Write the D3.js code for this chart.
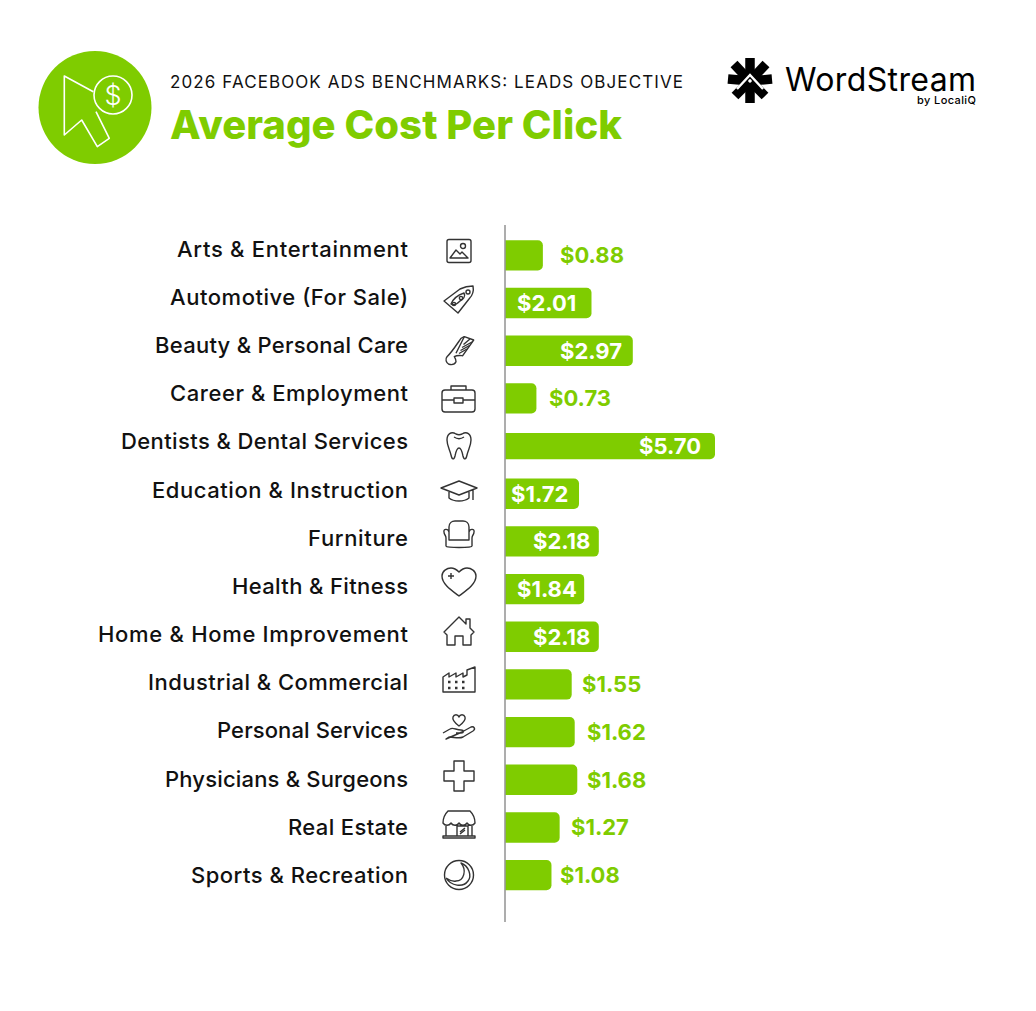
<!DOCTYPE html>
<html><head><meta charset="utf-8">
<script src="https://cdn.jsdelivr.net/npm/d3@7"></script>
<style>html,body{margin:0;padding:0;background:#fff}svg{display:block}</style>
</head><body><svg id="c" width="1036" height="1011"></svg>
<script>
const categories = ["Arts & Entertainment","Automotive (For Sale)","Beauty & Personal Care","Career & Employment","Dentists & Dental Services","Education & Instruction","Furniture","Health & Fitness","Home & Home Improvement","Industrial & Commercial","Personal Services","Physicians & Surgeons","Real Estate","Sports & Recreation"];
const values = [0.88,2.01,2.97,0.73,5.70,1.72,2.18,1.84,2.18,1.55,1.62,1.68,1.27,1.08];
const titleText = "Average Cost Per Click";
const subtitleText = "2026 FACEBOOK ADS BENCHMARKS: LEADS OBJECTIVE";

// layout (reference's hand placement of the value labels and label widths)
const labelStart = [560,517,560,549,639,511,533,517,533,582,587,587,571,560];
const onBar = [0,1,1,0,1,1,1,1,1,0,0,0,0,0];
const barInset = [0,0,0,0,2,0,0,0,0,0,0,0,0,0];
const iconY = [251,299,349,400,446,490,535,582,632,680,728,776,825,875];
const labelWidth = [231,238,253,238,287,256,100,176,310,260,191,243,120,217];
const green = "#7fcc00", ink = "#111", iconInk = "#333";
const font = "Inter, 'Open Sans', sans-serif";

const svg = d3.select("#c");
const x = d3.scaleLinear().domain([0,4.88]).range([505,715]).clamp(true);
const y = d3.scaleBand().domain(categories).range([231.55,898.95]).paddingInner(.363).paddingOuter(.1815);
const yLabel = d3.scalePoint().domain(categories).range([249.3,875.4]);

// header
svg.append("circle").attr("cx",95).attr("cy",107.5).attr("r",56.5).attr("fill",green);
const cur = svg.append("g").attr("fill","none").attr("stroke","#fff").attr("stroke-width",1.6).attr("stroke-linejoin","round");
cur.append("path").attr("d","M93.3 91.7 L64.3 76 L64.3 135 L81.7 120 L97.3 146.7 L109.3 138.3 L96 111.7");
cur.append("circle").attr("cx",113).attr("cy",95).attr("r",19);
svg.append("text").attr("x",113).attr("y",104.5).attr("text-anchor","middle").attr("font-family",font).attr("font-size",27).attr("font-weight",300).attr("fill","#fff").text("$");
svg.append("text").attr("x",170).attr("y",88).attr("font-family",font).attr("font-size",17).attr("font-weight",400).attr("fill",ink).attr("textLength",513).text(subtitleText);
svg.append("text").attr("x",170).attr("y",139).attr("font-family",font).attr("font-size",40).attr("font-weight",800).attr("fill",green).attr("textLength",452).text(titleText);

// logo
const logo = svg.append("g").attr("transform","translate(750,81)");
[[0,-23],[16,-17],[-16,-17],[-22,-2],[22,-2],[-15,15],[0,22],[15,15]].forEach(a=>
  logo.append("line").attr("x1",a[0]).attr("y1",a[1]).attr("x2",a[0]*.08).attr("y2",a[1]*.08).attr("stroke","#000").attr("stroke-width",9.5));
logo.append("path").attr("d","M-13 8 L0 -6 L13 8").attr("fill","none").attr("stroke","#fff").attr("stroke-width",2.4);
svg.append("text").attr("x",785).attr("y",91).attr("font-family",font).attr("font-size",32).attr("font-weight",400).attr("fill","#000").attr("textLength",191).text("WordStream");
svg.append("text").attr("x",917).attr("y",104).attr("font-family",font).attr("font-size",11).attr("font-weight",500).attr("fill","#000").attr("textLength",59).text("by LocaliQ");

// category labels
const axis = svg.append("g").attr("transform","translate(408,0)").call(d3.axisLeft(yLabel).tickSize(0).tickPadding(0));
axis.select(".domain").remove();
axis.selectAll("text").attr("font-family",font).attr("font-size",22).attr("font-weight",450).attr("fill",ink)
  .attr("textLength",(d,i)=>labelWidth[i]);

// bars
svg.append("g").selectAll("path").data(categories).join("path").attr("fill",green)
 .attr("d",(d,i)=>{const x0=x(0),x1=x(values[i]),t=y(d)+barInset[i],h=y.bandwidth()-2*barInset[i],r=Math.min(5,x1-x0);
   return `M${x0} ${t}H${x1-r}a${r} ${r} 0 0 1 ${r} ${r}V${t+h-r}a${r} ${r} 0 0 1 ${-r} ${r}H${x0}Z`;});
svg.append("line").attr("x1",505).attr("x2",505).attr("y1",225).attr("y2",922).attr("stroke","#999").attr("stroke-width",1.6);

// value labels
svg.append("g").selectAll("text").data(categories).join("text")
 .attr("x",(d,i)=>labelStart[i]).attr("y",d=>y(d)+y.bandwidth()/2+8)
 .attr("font-family",font).attr("font-size",22).attr("font-weight",700)
 .attr("fill",(d,i)=>onBar[i]?"#fff":green).text((d,i)=>"$"+values[i].toFixed(2));

// category icons
function p(g,d){g.append("path").attr("d",d);}
const icons = [
 g=>{g.append("rect").attr("x",-12).attr("y",-11.5).attr("width",24).attr("height",23).attr("rx",2);p(g,"M-9 7 L-3 -1 L1 3 L3 1 L9 7 Z");g.append("circle").attr("cx",4).attr("cy",-5).attr("r",2.5);},
 g=>{p(g,"M-15 2 L1 -10 C5 -12 9 -13 14 -13 C15 -8 13 -3 10 0 L-1 14 Z");g.append("circle").attr("cx",9).attr("cy",-7).attr("r",2);p(g,"M-8 5 C-6 0 -1 -4 5 -6 C7 -3 4 1 1 2 C-2 5 -5 7 -8 5 Z");g.append("circle").attr("cx",-5).attr("cy",5).attr("r",1.6);g.append("circle").attr("cx",2).attr("cy",-1).attr("r",1.6);},
 g=>{p(g,"M5.3 -12.3 C3 -11 2 -10.7 2 -10.7 C-2 -5 -7 3 -12 7.7 C-14 10 -13 14 -10 15.3 C-7 16 -4 15 -3 12.7 C-3 10 -4 9 -4.7 7.7 C-2 6 1 6.5 3.7 6.7 L14.7 -9 Z");p(g,"M5.3 -12.3 L-3 4.3 M11 -10 L4.5 -4.5 M13 -7 L3 -1.5 M10.5 -3.5 L1.5 1.5 M8 0 L0 4.5");},
 g=>{g.append("rect").attr("x",-17).attr("y",-10).attr("width",33).attr("height",22).attr("rx",3);p(g,"M-8 -10 V-14 H7 V-10 M-17 0 H-5 M4 0 H16");g.append("rect").attr("x",-5).attr("y",-2).attr("width",9).attr("height",5);},
 g=>{p(g,"M-3 -12 C-8 -15 -12 -12 -12 -6 C-12 0 -9 4 -8 9 C-7 14 -5 14 -4 10 C-3 5 -2 2 0 2 C2 2 3 5 4 10 C5 14 7 14 8 9 C9 4 12 0 12 -6 C12 -12 8 -15 3 -12 C1 -11 -1 -11 -3 -12 Z M-5 -9 C-2 -7 2 -7 5 -9");},
 g=>{p(g,"M-18 -2 L0 -9 L18 -2 L0 5 Z M-10 2 V8 C-5 12 5 12 10 8 V2 M14 0 V10");},
 g=>{p(g,"M-10 -3 V-8 C-10 -12 -7 -14 -4 -14 H4 C7 -14 10 -12 10 -8 V-3 M-15 -3 C-16 -6 -11 -7 -10 -3 V5 H10 V-3 C11 -7 16 -6 15 -3 C15 0 13 0 13 3 V11 C13 13 -13 13 -13 11 V3 C-13 0 -15 0 -15 -3 Z");},
 g=>{p(g,"M0 14 C-8 8 -17 2 -17 -6 C-17 -11 -12 -14 -8 -14 C-4 -14 -2 -12 0 -10 C2 -12 4 -14 8 -14 C12 -14 17 -11 17 -6 C17 2 8 8 0 14 Z M-8 -9 V-3 M-11 -6 H-5");},
 g=>{p(g,"M-15 0 L0 -15 L7 -8 V-13 H11 V-4 L15 0 L12 3 V13 H4 V4 H-4 V13 H-12 V3 Z");},
 g=>{p(g,"M-16 12 V-3 L-10 -7 V-3 L-3 -7 V-3 L4 -7 V-3 L8 -5 V-10 L16 -13 V12 Z");g.append("path").attr("stroke-width",2.4).attr("d","M-11 2 h2.5 M-4 2 h2.5 M3 2 h2.5 M-11 8 h2.5 M-4 8 h2.5 M3 8 h2.5");},
 g=>{p(g,"M0 -2 C-4 -5 -7 -8 -6 -11 C-5 -14 -1 -14 0 -11 C1 -14 5 -14 6 -11 C7 -8 4 -5 0 -2 Z M-16 5 L-9 1 C-6 -1 -3 2 2 2 C5 2 5 5 2 5 H-3 M3 4 L12 -1 C15 -2 17 1 14 3 L4 9 C0 11 -5 9 -10 9 L-13 11 Z");},
 g=>{p(g,"M-5 -15 H5 V-5 H15 V5 H5 V15 H-5 V5 H-15 V-5 H-5 Z");},
 g=>{p(g,"M-11 -14 H11 C14 -11 16 -6 16 -2 C14 1 10 1 8 -2 C6 1 2 1 0 -2 C-2 1 -6 1 -8 -2 C-10 1 -14 1 -16 -2 C-16 -6 -14 -11 -11 -14 Z M-13 0 V11 M13 0 V11 M-16 13 H16 V11 H-16 Z M-2 11 V1 H9 V11 M1 7 L6 3 M1 9 L6 5");},
 g=>{g.append("circle").attr("r",14.5);p(g,"M-13 3 C-8 11 4 13 9 6 C13 1 10 -9 2 -12 C8 -5 5 6 -3 6 C-7 7 -10 5 -13 3");}
];
svg.append("g").attr("fill","none").attr("stroke",iconInk).attr("stroke-width",1.4).attr("stroke-linejoin","round")
 .selectAll("g").data(categories).join("g").attr("transform",(d,i)=>`translate(459,${iconY[i]})`)
 .each(function(d,i){icons[i](d3.select(this));});
</script></body></html>
